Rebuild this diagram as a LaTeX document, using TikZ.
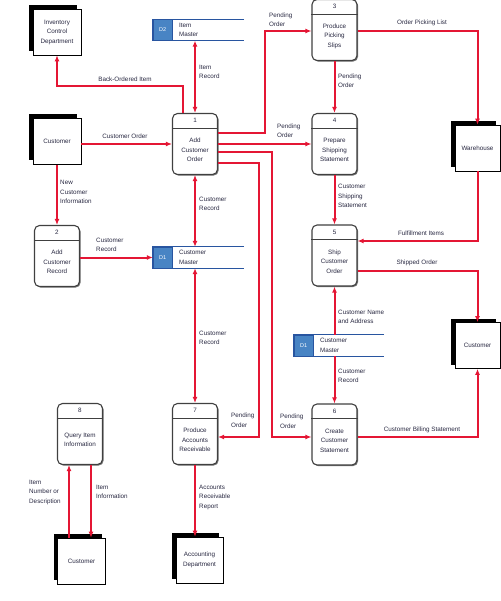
\documentclass[tikz,border=0pt]{standalone}
\usepackage{fontspec}
\setmainfont{Liberation Sans}
\usepackage{tikz}
\usetikzlibrary{arrows.meta,calc,shadows}

\definecolor{dfdred}{RGB}{228,22,52}
\definecolor{dfdtxt}{RGB}{40,40,65}
\definecolor{dfdblue}{RGB}{40,85,160}
\definecolor{dfdfill}{RGB}{72,132,196}

% process bubble: name, position, number, text
\newcommand{\dfdproc}[4]{%
  \node[proc] (#1) at (#2) {};
  \draw[procline] ($(#1.north west)+(0,15)$) -- ($(#1.north east)+(0,15)$);
  \node[note] (#1num) at ($(#1.north)+(0,7.5)$) {#3};
  \node[note, align=center] (#1txt) at ($(#1.center)+(0,6)$) {#4};
}
% data store: name, position, width, id, text
\newcommand{\dfdstore}[5]{%
  \node[store, minimum width=#3pt] (#1) at (#2) {};
  \draw[storeline] (#1.north east) -- (#1.north west) -- (#1.south west) -- (#1.south east);
  \node[storeid, anchor=west] (#1id) at (#1.west) {#4};
  \node[note, anchor=west] (#1txt) at ($(#1.west)+(26,0)$) {#5};
}

\begin{document}
\begin{tikzpicture}[
    x=1pt, y=-1pt,
    note/.style={font=\fontsize{6.3}{9.5}\selectfont, text=dfdtxt, inner sep=0pt, align=left},
    proc/.style={draw=black!75, line width=1.1pt, fill=white, rounded corners=5pt,
      minimum width=45pt, minimum height=61pt, inner sep=0pt,
      drop shadow={shadow xshift=1.1pt, shadow yshift=-1.1pt, fill=black!55, opacity=1}},
    procline/.style={draw=black!75, line width=0.8pt},
    ext/.style={draw=black, line width=0.6pt, fill=white, minimum width=48pt, minimum height=46pt,
      inner sep=0pt, align=center, font=\fontsize{6.3}{9.5}\selectfont, text=dfdtxt,
      drop shadow={shadow xshift=-4pt, shadow yshift=4pt, fill=black, opacity=1}},
    store/.style={minimum height=21pt, inner sep=0pt},
    storeline/.style={dfdblue, line width=1.2pt},
    storeid/.style={draw=dfdblue, line width=0.8pt, fill=dfdfill, minimum width=19pt, minimum height=21pt,
      inner sep=0pt, text=white, font=\fontsize{5.5}{6}\selectfont},
    flow/.style={-{Latex[length=6pt,width=5pt]}, line width=2pt, dfdred},
    flowboth/.style={{Latex[length=6pt,width=5pt]}-{Latex[length=6pt,width=5pt]}, line width=2pt, dfdred}
]

\path[use as bounding box] (0,0) rectangle (500,601);

% external entities
\node[ext] (inv) at (57,32) {Inventory\\Control\\Department};
\node[ext] (custA) at (57,141.5) {Customer};
\node[ext, minimum width=45pt] (wh) at (477.5,148) {Warehouse};
\node[ext, minimum width=45pt] (custB) at (477.5,345.5) {Customer};
\node[ext] (custC) at (81.5,561) {Customer};
\node[ext, minimum width=47pt] (acct) at (199.5,560) {Accounting\\Department};

% data stores
\dfdstore{item}{198.5,30}{91}{D2}{Item\\Master}
\dfdstore{cmA}{198.5,257.5}{91}{D1}{Customer\\Master}
\dfdstore{cmB}{339,345.5}{90}{D1}{Customer\\Master}

% processes
\dfdproc{p1}{195,144}{1}{Add\\Customer\\Order}
\dfdproc{p2}{57,256}{2}{Add\\Customer\\Record}
\dfdproc{p3}{334.5,30}{3}{Produce\\Picking\\Slips}
\dfdproc{p4}{334.5,144}{4}{Prepare\\Shipping\\Statement}
\dfdproc{p5}{334.5,255.5}{5}{Ship\\Customer\\Order}
\dfdproc{p6}{334.5,434.5}{6}{Create\\Customer\\Statement}
\dfdproc{p7}{195,434}{7}{Produce\\Accounts\\Receivable}
\dfdproc{p8}{80,434}{8}{Query Item\\Information}

% flows round process 1
\draw[flow] (custA.east |- p1.west) -- (p1.west);
\draw[flow] ($(p1.north)+(-12,0)$) |- ($(inv.south)+(0,31)$) -- (inv.south);
\draw[flowboth] (p1.north |- item.south) -- (p1.north);
\draw[flowboth] (p1.south) -- (p1.south |- cmA.north);
\draw[flowboth] (p7.north |- cmA.south) -- (p7.north);
\draw[flow] ($(p1.east)+(0,-11)$) -| ($(p3.west)+(-46,1)$) -- ($(p3.west)+(0,1)$);
\draw[flow] (p1.east) -- (p4.west);
\draw[flow] ($(p1.east)+(0,8)$) -| ($(p6.west)+(-39,2.5)$) -- ($(p6.west)+(0,2.5)$);
\draw[flow] ($(p1.east)+(0,19)$) -| ($(p7.east)+(41,3)$) -- ($(p7.east)+(0,3)$);

% new customers
\draw[flow] (custA.south) -- (p2.north);
\draw[flow] (p2.east |- cmA.west) -- (cmA.west);

% picking and shipping
\draw[flow] (p3.south) -- (p4.north);
\draw[flow] ($(p3.east)+(0,1)$) -| (wh.north);
\draw[flow] (p4.south) -- (p5.north);
\draw[flow] (wh.south) |- ($(p5.east)+(0,-14.5)$);
\draw[flow] ($(p5.east)+(0,15.5)$) -| (custB.north);
\draw[flow] (p5.south |- cmB.north) -- (p5.south);
\draw[flow] (p6.north |- cmB.south) -- (p6.north);
\draw[flow] ($(p6.east)+(0,2)$) -| (custB.south);

% accounts and queries
\coordinate (p8in) at ($(p8.south)+(-11,0)$);
\coordinate (p8out) at ($(p8.south)+(11,0)$);
\draw[flow] (p7.south) -- (p7.south |- acct.north);
\draw[flow] (p8in |- custC.north) -- (p8in);
\draw[flow] (p8out) -- (p8out |- custC.north);

% flow labels
\node[note] (lCO) at (125,136) {Customer Order};
\node[note] (lBO) at (125,79) {Back-Ordered Item};
\node[note, anchor=west] (lIR) at (199,72) {Item\\Record};
\node[note, anchor=west] (lNC) at (60,192) {New\\Customer\\Information};
\node[note, anchor=west] (lCR2) at (96,245) {Customer\\Record};
\node[note, anchor=west] (lCR1) at (199,204) {Customer\\Record};
\node[note, anchor=west] (lCR7) at (199,338) {Customer\\Record};
\node[note, anchor=west] (lPO3) at (269,20) {Pending\\Order};
\node[note, anchor=west] (lPO4) at (277,131) {Pending\\Order};
\node[note, anchor=west] (lPO34) at (338,81) {Pending\\Order};
\node[note] (lOPL) at (422,23) {Order Picking List};
\node[note, anchor=west] (lCSS) at (338,196) {Customer\\Shipping\\Statement};
\node[note] (lFI) at (421,233) {Fulfillment Items};
\node[note] (lSO) at (417,263) {Shipped Order};
\node[note, anchor=west] (lCNA) at (338,317) {Customer Name\\and Address};
\node[note, anchor=west] (lCR6) at (338,376) {Customer\\Record};
\node[note] (lCBS) at (422,430) {Customer Billing Statement};
\node[note, anchor=west] (lPO7) at (231,420) {Pending\\Order};
\node[note, anchor=west] (lPO6) at (280,421) {Pending\\Order};
\node[note, anchor=west] (lARR) at (199,497) {Accounts\\Receivable\\Report};
\node[note, anchor=west] (lIN) at (29,492) {Item\\Number or\\Description};
\node[note, anchor=west] (lII) at (96,492) {Item\\Information};

\end{tikzpicture}
\end{document}
